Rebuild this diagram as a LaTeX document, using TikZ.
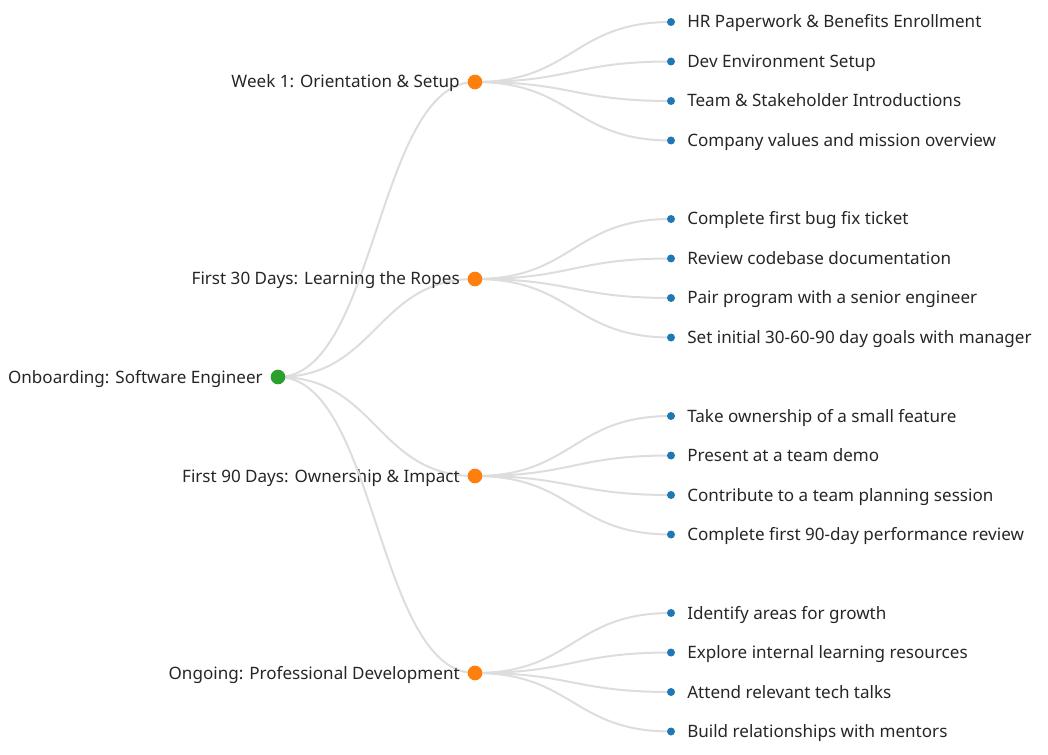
\documentclass[tikz,border=0pt]{standalone}
\usepackage{fontspec}
\setmainfont{Noto Sans}
\definecolor{rootc}{HTML}{2CA02C}
\definecolor{stagec}{HTML}{FF7F0E}
\definecolor{leafc}{HTML}{1F77B4}
\definecolor{linkc}{HTML}{DDDDDD}
\tikzset{
  dot/.style={circle, inner sep=0pt, minimum size=#1},
  link/.style={draw=linkc, line width=1.5pt},
  lbl/.style={font=\fontsize{12.8}{14}\selectfont, text=black!85, inner sep=0pt}
}
\begin{document}
\begin{tikzpicture}[x=0.75pt, y=-0.75pt]
  \useasboundingbox (0,0) rectangle (1048,755);

  % root
  \coordinate (root) at (278,377);

  % stages and their leaves
  \foreach \sy/\stext/\la/\lb/\lc/\ld [count=\i] in {
    82/{Week 1: Orientation \& Setup}/{HR Paperwork \& Benefits Enrollment}/{Dev Environment Setup}/{Team \& Stakeholder Introductions}/{Company values and mission overview},
    279/{First 30 Days: Learning the Ropes}/{Complete first bug fix ticket}/{Review codebase documentation}/{Pair program with a senior engineer}/{Set initial 30-60-90 day goals with manager},
    476/{First 90 Days: Ownership \& Impact}/{Take ownership of a small feature}/{Present at a team demo}/{Contribute to a team planning session}/{Complete first 90-day performance review},
    673/{Ongoing: Professional Development}/{Identify areas for growth}/{Explore internal learning resources}/{Attend relevant tech talks}/{Build relationships with mentors}} {
    \coordinate (stage\i) at (475,\sy);
    \draw[link] (root) .. controls (376.5,377) and (376.5,\sy) .. (stage\i);
    \foreach \t [count=\j] in {\la,\lb,\lc,\ld} {
      \pgfmathsetmacro{\ly}{\sy-60+(\j-1)*39.5}
      \coordinate (leaf\i\j) at (671,\ly);
      \draw[link] (stage\i) .. controls (573,\sy) and (573,\ly) .. (leaf\i\j);
      \node[dot=6pt, fill=leafc] at (leaf\i\j) {};
      \node[lbl, anchor=base west] (leaftext\i\j) at (687,\ly+6) {\t};
    }
    \node[dot=11pt, fill=stagec] at (stage\i) {};
    \node[lbl, anchor=base east] (stagetext\i) at (460,\sy+6) {\stext};
  }

  \node[dot=11pt, fill=rootc] at (root) {};
  \node[lbl, anchor=base east] (roottext) at (263,383) {Onboarding: Software Engineer};
\end{tikzpicture}
\end{document}
